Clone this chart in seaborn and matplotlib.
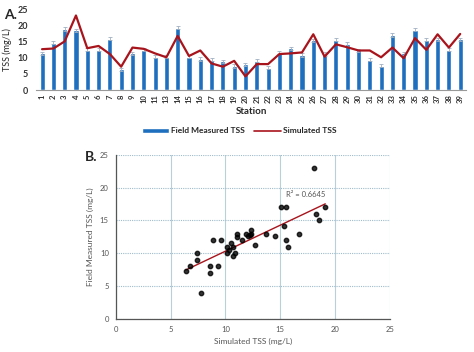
import numpy as np
import pandas as pd
import matplotlib
matplotlib.use("Agg")
import matplotlib.pyplot as plt
import seaborn as sns
from matplotlib.patches import Patch
from matplotlib.lines import Line2D

# --- Data ---
stations = [str(i) for i in list(range(1, 12)) + list(range(13, 40))]
measured = [11.3, 14.6, 18.8, 18.4, 12.4, 12.4, 15.8, 6.4, 11.3, 12.4,
            10.3, 10.3, 19.2, 10.3, 9.6, 9.3, 8.8, 7.4, 7.9, 9.0,
            6.9, 11.5, 12.9, 10.8, 15.3, 11.1, 15.5, 14.2, 12.2, 9.3,
            7.5, 17.0, 11.3, 18.6, 15.5, 15.7, 12.4, 15.7]
simulated = [12.6, 12.8, 15.0, 23.0, 12.9, 13.6, 11.1, 7.2, 13.1, 12.7,
             11.3, 10.1, 16.7, 10.5, 12.2, 8.2, 7.2, 9.0, 4.2, 8.0,
             8.0, 11.1, 11.3, 11.6, 17.2, 10.3, 14.1, 13.2, 12.2, 12.2,
             10.1, 13.1, 9.8, 16.0, 12.4, 17.2, 13.1, 17.3]
meas_err = 0.5

sc_sim = [18.1, 6.4, 6.8, 7.4, 7.4, 7.8, 8.6, 8.6, 8.9, 9.3,
          9.6, 10.1, 10.1, 10.3, 10.5, 10.7, 10.7, 10.9, 11.1, 11.1,
          11.5, 11.9, 12.1, 12.2, 12.3, 12.3, 12.7, 13.7, 14.5, 15.1,
          15.5, 15.3, 15.5, 15.7, 16.7, 18.3, 18.5, 19.1]
sc_meas = [23.0, 7.3, 8.0, 10.0, 9.0, 4.0, 8.0, 7.0, 12.0, 8.0,
           12.0, 11.0, 10.0, 10.5, 11.5, 11.0, 9.5, 10.0, 13.0, 12.4,
           12.0, 13.0, 12.6, 12.8, 13.0, 13.5, 11.2, 13.0, 12.7, 17.0,
           17.0, 14.2, 12.0, 11.0, 13.0, 16.0, 15.0, 17.0]
r2_text = "R\u00b2 = 0.6645"

BLUE = "#1f6fbf"
RED = "#a8141c"


def main():
    sns.set_theme(style="white")
    plt.rcParams["font.family"] = ["Lato", "DejaVu Sans"]

    fig = plt.figure(figsize=(4.74, 3.52), dpi=100)

    # ---- Panel A ----
    ax1 = fig.add_axes([0.0768, 0.7443, 0.906, 0.2301])
    df = pd.DataFrame({"Station": stations, "Measured": measured})
    sns.barplot(data=df, x="Station", y="Measured", color=BLUE,
                width=0.45, saturation=1, errorbar=None, ax=ax1)
    pos = np.arange(len(stations))
    ax1.errorbar(pos, measured, yerr=meas_err, fmt="none",
                 ecolor="#9fb0c2", elinewidth=0.6, capsize=1.5, capthick=0.6)
    ax1.plot(pos, simulated, color=RED, lw=1.6, zorder=5)
    ax1.set_ylim(0, 25)
    ax1.set_xlim(-0.5, len(stations) - 0.5)
    ax1.set_yticks([0, 5, 10, 15, 20, 25])
    ax1.set_ylabel("TSS (mg/L)", fontsize=6.5, labelpad=4)
    ax1.set_xlabel("Station", fontsize=7, fontweight="bold", labelpad=3)
    ax1.tick_params(axis="y", labelsize=6.5, length=0, pad=6)
    ax1.tick_params(axis="x", labelsize=5.5, length=0, pad=3, rotation=90)
    for lbl in ax1.get_yticklabels() + ax1.get_xticklabels():
        lbl.set_fontweight("bold")
        lbl.set_color("#333333")
    for s in ["top", "right", "left"]:
        ax1.spines[s].set_visible(False)
    ax1.spines["bottom"].set_color("#999999")
    ax1.spines["bottom"].set_linewidth(0.8)

    fig.text(0.008, 0.975, "A.", fontsize=10, fontweight="bold", va="top")

    handles = [Patch(facecolor=BLUE, label="Field Measured TSS"),
               Line2D([0], [0], color=RED, lw=1.2, label="Simulated TSS")]
    fig.legend(handles=handles, loc="center", ncol=2,
               bbox_to_anchor=(0.505, 1 - 131 / 352), frameon=False,
               fontsize=6, handlelength=3.2, handleheight=0.5,
               columnspacing=1.2, handletextpad=0.2,
               prop={"weight": "bold", "size": 6})

    # ---- Panel B ----
    ax2 = fig.add_axes([0.2441, 0.0946, 0.5787, 0.4651])
    sdf = pd.DataFrame({"sim": sc_sim, "meas": sc_meas})
    sns.regplot(data=sdf, x="sim", y="meas", ci=None, ax=ax2,
                scatter_kws={"s": 10, "color": "black", "zorder": 4},
                line_kws={"color": RED, "lw": 1.0, "zorder": 3})
    ax2.set_xlim(0, 25)
    ax2.set_ylim(0, 25)
    ax2.set_xticks([0, 5, 10, 15, 20, 25])
    ax2.set_yticks([0, 5, 10, 15, 20, 25])
    ax2.xaxis.grid(True, color="#b9cfd9", lw=0.8, ls="-")
    ax2.yaxis.grid(True, color="#9fbccc", lw=0.8, ls=(0, (1, 1)))
    ax2.set_axisbelow(True)
    ax2.set_xlabel("Simulated TSS (mg/L)", fontsize=6, color="#555555",
                   labelpad=4)
    ax2.set_ylabel("Field Measured TSS (mg/L)", fontsize=6,
                   color="#555555", labelpad=4)
    ax2.tick_params(labelsize=5.5, labelcolor="#555555", length=0, pad=5)
    for s in ["top", "right"]:
        ax2.spines[s].set_visible(False)
    ax2.spines["left"].set_color("#555555")
    ax2.spines["bottom"].set_color("#555555")
    ax2.spines["left"].set_linewidth(0.9)
    ax2.spines["bottom"].set_linewidth(0.9)
    ax2.text(15.5, 19.0, r2_text, fontsize=5.5, color="#555555",
             va="center")

    fig.text(0.18, 0.555, "B.", fontsize=10, fontweight="bold",
             va="center")

    fig.savefig("out.png", dpi=100)


if __name__ == "__main__":
    main()
